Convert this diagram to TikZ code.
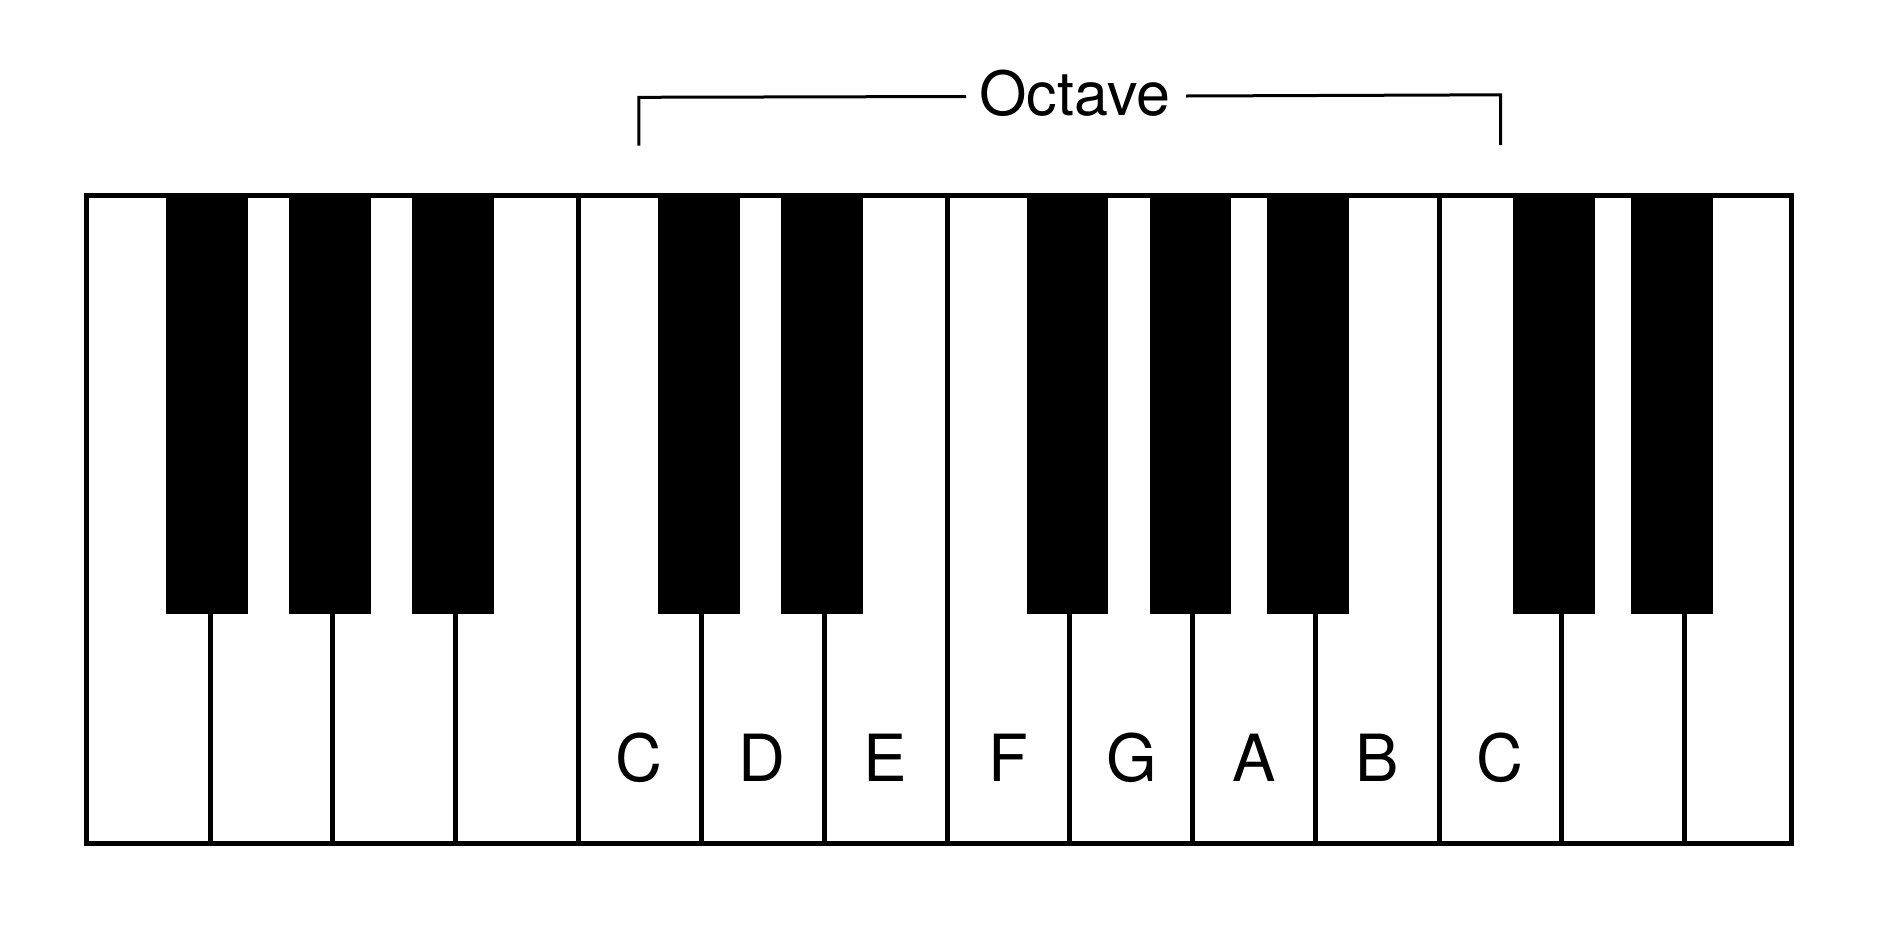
\documentclass[tikz,border=0pt]{standalone}
\usepackage{fontspec}
\setmainfont{TeX Gyre Heros}
\begin{document}
\begin{tikzpicture}[x=1pt,y=-1pt,
  frame/.style={draw=black,line width=5pt,line join=miter},
  divider/.style={draw=black,line width=5pt},
  blackkey/.style={fill=black,draw=none},
  bracketline/.style={draw=black,line width=3pt,line join=miter},
  notelabel/.style={anchor=base,inner sep=0pt,font=\fontsize{65}{78}\selectfont},
  octlabel/.style={anchor=base,inner sep=0pt,font=\fontsize{61}{73}\selectfont}]
\fill[white] (0,0) rectangle (1880,946);
\useasboundingbox (0,0) rectangle (1880,946);
% black keys
\foreach \a/\b in {166.4/248.2,288.9/371.1,412.1/493.9,657.9/740.0,780.9/862.6,1027/1108.3,1149.6/1231.3,1267.3/1349.2,1513.1/1595.2,1630.7/1712.9}
  \path[blackkey] (\a,196) rectangle (\b,614.4);
% short dividers
\foreach \x in {210,332.6,455.7,701.5,824,1069.9,1192.7,1315.9,1561.9,1684.8}
  \draw[divider] (\x,614.4) -- (\x,843.3);
% full dividers
\foreach \x in {578.6,947.1,1439.1}
  \draw[divider] (\x,195.8) -- (\x,843.3);
% frame
\draw[frame] (86.5,195.8) rectangle (1791.4,843.3);
% labels
\node[notelabel] (c1) at (639.3,781.7) {C};
\node[notelabel] (d1) at (762.2,781.7) {D};
\node[notelabel] (e1) at (885.3,781.7) {E};
\node[notelabel] (f1) at (1008.5,781.7) {F};
\node[notelabel] (g1) at (1131.3,781.7) {G};
\node[notelabel] (a1) at (1254.3,781.7) {A};
\node[notelabel] (b1) at (1377.5,781.7) {B};
\node[notelabel] (c2) at (1500.3,781.7) {C};
% octave bracket
\node[octlabel] (oct) at (1074.8,115) {Octave};
\coordinate (lb) at (638.8,145.5);
\coordinate (lt) at (638.8,97.3);
\coordinate (le) at (966,96.5);
\coordinate (rs) at (1186,96);
\coordinate (rt) at (1500.7,94.8);
\coordinate (rb) at (1500.7,145);
\draw[bracketline] (lb) -- (lt) -- (le);
\draw[bracketline] (rs) -- (rt) -- (rb);
\end{tikzpicture}
\end{document}
